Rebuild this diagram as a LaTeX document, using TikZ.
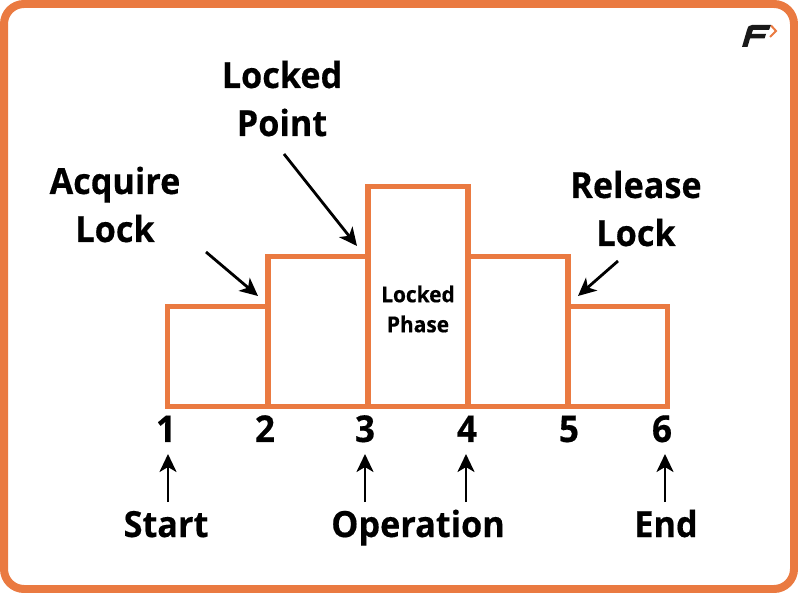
\documentclass[tikz,border=0pt]{standalone}
\usepackage{fontspec}
\setmainfont[BoldFeatures={FakeStretch=0.95,FakeBold=0.4}]{Open Sans}
\usetikzlibrary{arrows.meta}
\definecolor{brand}{HTML}{EA7A41}
\tikzset{
 x=1pt,y=-1pt,
 barbox/.style={draw=brand,line width=5.4pt,miter limit=10},
 big/.style={font=\fontsize{36}{48}\selectfont\bfseries,align=center,inner sep=0pt,text=black},
 single/.style={big,anchor=base},
 num/.style={font=\fontsize{37}{40}\selectfont\bfseries,inner sep=0pt,text=black,anchor=base},
 small/.style={font=\fontsize{22}{30}\selectfont\bfseries,align=center,inner sep=0pt,text=black},
 pointer/.style={draw=black,line width=2.8pt,-{Stealth[length=18pt,width=17pt,inset=5pt]}},
}
\begin{document}
\begin{tikzpicture}
\useasboundingbox (0,0) rectangle (798,593);
\fill[white] (0,0) rectangle (798,593);
\draw[brand,line width=8pt,rounded corners=20pt] (4,4) rectangle (794,589);
% bars
\draw[barbox] (167.5,306.5) rectangle (268,406.5);
\draw[barbox] (268,256.5) rectangle (368,406.5);
\draw[barbox] (368,186.5) rectangle (468,406.5);
\draw[barbox] (468,256.5) rectangle (568,406.5);
\draw[barbox] (568,306.5) rectangle (667.5,406.5);
% labels
\node[big] (locked) at (282,98.5) {Locked\\Point};
\node[big] (acquire) at (115,204.5) {Acquire\\Lock};
\node[big] (release) at (636,208.5) {Release\\Lock};
\node[small] (phase) at (418,309) {Locked\\Phase};
\node[num] (n1) at (166,442) {1};
\node[num] (n2) at (265,442) {2};
\node[num] (n3) at (365,442) {3};
\node[num] (n4) at (467,442) {4};
\node[num] (n5) at (569,442) {5};
\node[num] (n6) at (662,442) {6};
\node[single] (start) at (166,537) {Start};
\node[single] (oper) at (418,537) {Operation};
\node[single] (endl) at (666,537) {End};
% connector ends
\coordinate (a1) at (168,502); \coordinate (a1t) at (168,454);
\coordinate (a3) at (365,502); \coordinate (a3t) at (365,454);
\coordinate (a4) at (466,502); \coordinate (a4t) at (466,454);
\coordinate (a6) at (665,502); \coordinate (a6t) at (665,454);
\coordinate (b1) at (206,252); \coordinate (b1t) at (258,296);
\coordinate (b2) at (284,154); \coordinate (b2t) at (357,246);
\coordinate (b3) at (618,261); \coordinate (b3t) at (578,296);
\draw[pointer] (a1) -- (a1t);
\draw[pointer] (a3) -- (a3t);
\draw[pointer] (a4) -- (a4t);
\draw[pointer] (a6) -- (a6t);
\draw[pointer] (b1) -- (b1t);
\draw[pointer] (b2) -- (b2t);
\draw[pointer] (b3) -- (b3t);
% logo
\fill[black!90] (752,25) -- (771,25) -- (769,30) -- (753,30) -- (751.5,34) -- (766,34) -- (764.5,38.5) -- (750,38.5) -- (747.5,47) -- (742,47) -- (747,30) .. controls (748,26.5) and (749,25) .. (752,25) -- cycle;
\draw[brand,line width=2pt] (771,25.5) -- (776,31) -- (770,37);
\end{tikzpicture}
\end{document}
